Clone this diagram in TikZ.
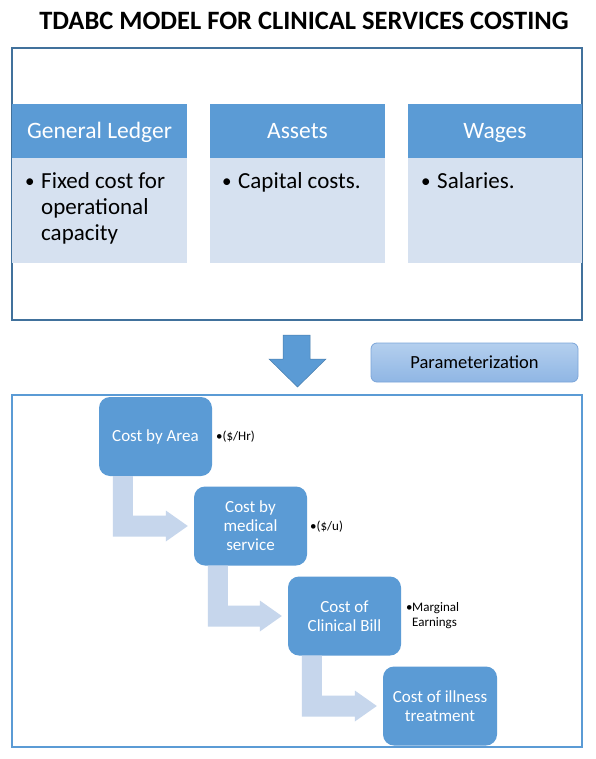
\documentclass[tikz,border=0pt]{standalone}
\usepackage{fontspec}
\setmainfont{Carlito}
\usetikzlibrary{positioning,calc}
\definecolor{hdrblue}{HTML}{5B9BD5}
\definecolor{bodyblue}{HTML}{D6E1F0}
\definecolor{framedark}{HTML}{41719C}
\definecolor{framelight}{HTML}{5B9BD5}
\definecolor{bentblue}{HTML}{C6D6EC}
\definecolor{paramtop}{HTML}{B4CFEE}
\definecolor{parambot}{HTML}{8FB6E4}
\definecolor{paramedge}{HTML}{7BA5D9}
\tikzset{
  hdr/.style={fill=hdrblue, draw=none, minimum width=175pt, minimum height=54pt, inner sep=0pt,
    text=white, font=\fontsize{23.5}{26}\selectfont, text height=18pt, text depth=2pt},
  bodybox/.style={fill=bodyblue, draw=none, minimum width=175pt, minimum height=105pt, inner sep=0pt},
  bul/.style={anchor=base west, inner sep=0pt, font=\fontsize{23}{25.7}\selectfont},
  flowbox/.style={fill=hdrblue, draw=none, rounded corners=11pt, minimum width=113pt, minimum height=79pt,
    inner sep=0pt, text=white, align=center, font=\fontsize{17}{19}\selectfont},
  note/.style={inner sep=0pt, font=\fontsize{13}{15}\selectfont},
  bent/.style={fill=bentblue, draw=none},
  frame/.style={draw=#1, line width=1.2pt, fill=none},
}
\newcommand{\bigbul}{\makebox[16pt][l]{\raisebox{1pt}{\fontsize{19}{20}\selectfont\textbullet}}}
\begin{document}
\begin{tikzpicture}[x=1pt,y=-1pt]
\useasboundingbox (0,0) rectangle (595,759);
\fill[white] (0,0) rectangle (595,759);

% title
\node[font=\bfseries\fontsize{26.5}{28}\selectfont, inner sep=0pt] (title) at (304,21) {TDABC MODEL FOR CLINICAL SERVICES COSTING};

% top frame
\node[frame=framedark, minimum width=570pt, minimum height=272pt, inner sep=0pt] (topframe) at (297,184) {};

% headers
\node[hdr] (gl) at (99.5,131) {General Ledger};
\node[hdr] (as) at (297.5,131) {Assets};
\node[hdr, minimum width=174pt] (wg) at (495,131) {Wages};

\node[bodybox, anchor=north] (glb) at (gl.south) {};
\node[bodybox, anchor=north] (asb) at (as.south) {};
\node[bodybox, minimum width=174pt, anchor=north] (wgb) at (wg.south) {};

\node[bul] (glt) at (25,189) {\begin{tabular}[t]{@{}l@{}l@{}}\bigbul & Fixed cost for\\ & operational\\ & capacity\end{tabular}};
\node[bul] (ast) at (222,189) {\begin{tabular}[t]{@{}l@{}l@{}}\bigbul & Capital costs.\end{tabular}};
\node[bul] (wgt) at (421,189) {\begin{tabular}[t]{@{}l@{}l@{}}\bigbul & Salaries.\end{tabular}};

% down arrow
\fill[hdrblue, draw=framedark!70!hdrblue, line width=0.5pt] (283,335) -- (310,335) -- (310,359) -- (326,359) -- (297.5,387) -- (269,359) -- (283,359) -- cycle;

% Parameterization
\node[draw=paramedge, line width=0.8pt, top color=paramtop, bottom color=parambot, rounded corners=6pt,
  minimum width=207pt, minimum height=39pt, inner sep=0pt, font=\fontsize{18.5}{20}\selectfont] (param) at (474.5,362.5) {Parameterization};

% bottom frame
\node[frame=framelight, minimum width=570pt, minimum height=352pt, inner sep=0pt] (botframe) at (297,571) {};

% flow boxes
\node[flowbox] (ca) at (155.5,436.5) {Cost by Area};
\node[flowbox] (cm) at (250.5,526) {Cost by\\medical\\service};
\node[flowbox] (cc) at (344.5,616) {Cost of\\Clinical Bill};
\node[flowbox, minimum width=114pt] (ci) at (440,706) {Cost of illness\\treatment};

% notes
\node[note, anchor=west] (n1) at (216,437) {\textbullet(\$/Hr)};
\node[note, anchor=west] (n2) at (310,527) {\textbullet(\$/u)};
\node[note, anchor=base west] (n3) at (406,611) {\begin{tabular}[t]{@{}l@{}l@{}}\makebox[6pt][l]{\textbullet} & Marginal\\ & Earnings\end{tabular}};

% bent arrows
\foreach \a/\b in {ca/cm, cm/cc, cc/ci}{
  \path let \p1 = (\a.south west), \p2 = (\b.west) in
    [bent] (\x1+14pt,\y1) -- (\x1+34pt,\y1) -- (\x1+34pt,\y2+10.5pt) -- (\x2-28pt,\y2+10.5pt)
      -- (\x2-28pt,\y2+15.5pt) -- (\x2-6pt,\y2) -- (\x2-28pt,\y2-15.5pt) -- (\x2-28pt,\y2-10.5pt)
      -- (\x1+14pt,\y2-10.5pt) -- cycle;
}
\end{tikzpicture}
\end{document}
